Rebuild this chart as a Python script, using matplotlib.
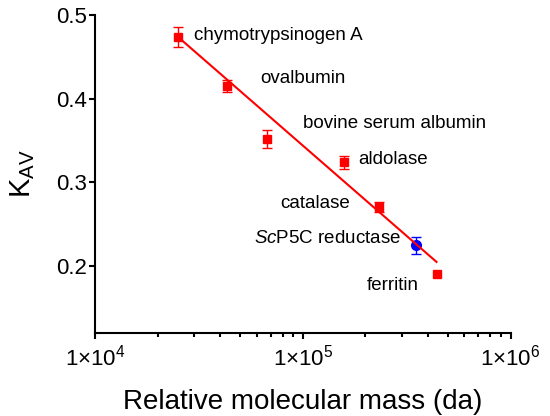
import matplotlib
matplotlib.use("Agg")
import matplotlib.pyplot as plt
from matplotlib.ticker import FuncFormatter, LogLocator, NullLocator, FixedLocator
import numpy as np

plt.rcParams['font.family'] = ['Liberation Sans', 'DejaVu Sans']
plt.rcParams['mathtext.fontset'] = 'custom'
plt.rcParams['mathtext.rm'] = 'Liberation Sans'
plt.rcParams['mathtext.it'] = 'Liberation Sans:italic'
plt.rcParams['mathtext.bf'] = 'Liberation Sans:bold'

# Data
proteins = ["chymotrypsinogen A", "ovalbumin", "bovine serum albumin",
            "aldolase", "catalase", "ferritin"]
mass = [25000, 43000, 67000, 158000, 232000, 440000]
kav = [0.474, 0.415, 0.352, 0.324, 0.271, 0.191]
kav_err = [0.012, 0.007, 0.011, 0.008, 0.006, np.nan]

sample_name = r"$\mathit{Sc}$P5C reductase"
sample_mass = [350000]
sample_kav = [0.225]
sample_err = [0.010]

fit_x = [25000, 440000]
fit_y = [0.474, 0.205]

y_ticks = [0.2, 0.3, 0.4, 0.5]
x_ticks = [1e4, 1e5, 1e6]

fig = plt.figure(figsize=(5.5, 4.16), dpi=100)
ax = fig.add_axes([0.1735, 0.1995, 0.7547, 0.764])

red = '#ff0000'
blue = '#0000ff'

ax.errorbar(sample_mass, sample_kav, yerr=sample_err, fmt='o', color=blue,
            ms=7, capsize=3.5, elinewidth=1, capthick=1, zorder=3)
ax.plot(fit_x, fit_y, '-', color=red, lw=1.5, zorder=4)
ax.errorbar(mass, kav, yerr=kav_err, fmt='s', color=red, ms=5.5,
            capsize=3.5, elinewidth=1, capthick=1, zorder=5)

ax.set_xscale('log')
ax.set_xlim(1e4, 1e6)
ax.set_ylim(0.12, 0.5)
ax.set_yticks(y_ticks)
ax.yaxis.set_minor_locator(NullLocator())
ax.xaxis.set_major_locator(FixedLocator(x_ticks))
ax.xaxis.set_minor_locator(LogLocator(base=10, subs=np.arange(2, 10)))

def fmt(v, pos):
    e = int(round(np.log10(v)))
    return r'$\mathregular{1{\times}10^{%d}}$' % e
ax.xaxis.set_major_formatter(FuncFormatter(fmt))
ax.yaxis.set_major_formatter(FuncFormatter(lambda v, p: f"{v:.1f}"))

for s in ['top', 'right']:
    ax.spines[s].set_visible(False)
for s in ['left', 'bottom']:
    ax.spines[s].set_linewidth(1.5)

ax.tick_params(axis='both', which='major', labelsize=16, width=1.5, length=4, pad=2)
ax.tick_params(axis='x', which='major', pad=4)
ax.tick_params(axis='x', which='minor', width=1.5, length=3)

ax.set_xlabel("Relative molecular mass (da)", fontsize=20, labelpad=14)
ax.set_ylabel(r"$\mathregular{K_{AV}}$", fontsize=21, labelpad=14)

lab_fs = 13.5
labels = [
    (proteins[0], 0.237, 0.937, 'left'),
    (proteins[1], 0.397, 0.802, 'left'),
    (proteins[2], 0.500, 0.660, 'left'),
    (proteins[3], 0.633, 0.547, 'left'),
    (proteins[4], 0.613, 0.409, 'right'),
    (sample_name, 0.736, 0.296, 'right'),
    (proteins[5], 0.654, 0.151, 'left'),
]
for t, x, y, ha in labels:
    ax.text(x, y, t, transform=ax.transAxes, fontsize=lab_fs, ha=ha, va='center')

fig.savefig("out.png", dpi=100)
